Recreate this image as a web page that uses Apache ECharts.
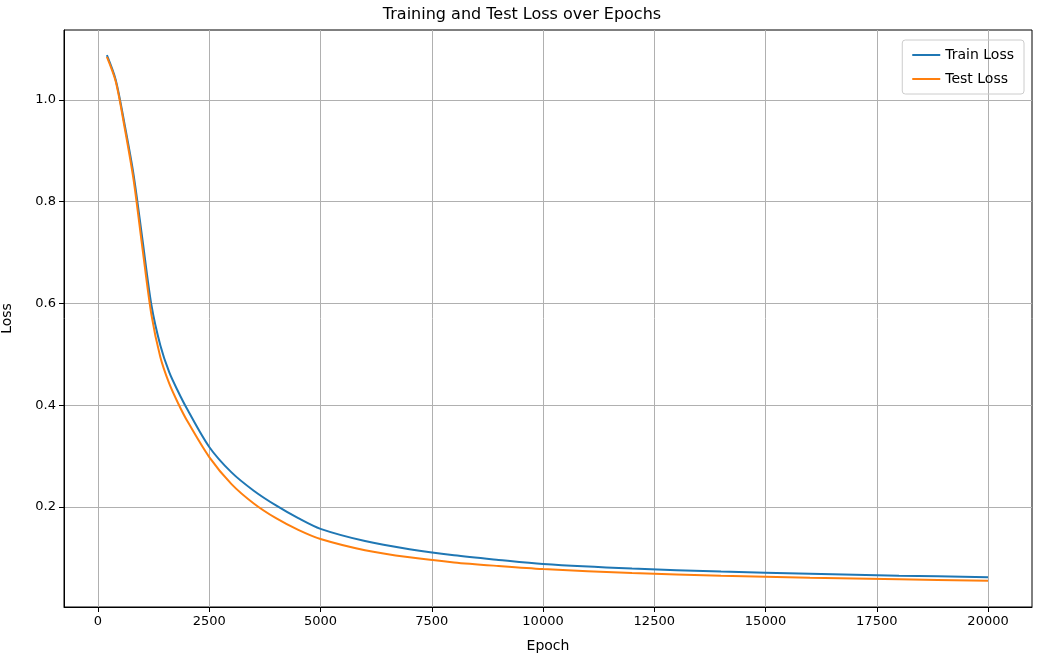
<html>
<head>
  <meta charset="utf-8">
  <title>Training and Test Loss over Epochs</title>
  <script src="https://cdn.jsdelivr.net/npm/echarts@6/dist/echarts.min.js"></script>
</head>
<body style="margin:0">
  <div id="main" style="width:1044px;height:670px;"></div>
  <script type="text/javascript">
    var epochs = [200, 400, 600, 800, 1000, 1200, 1400, 1600, 1800, 2000, 2500, 3000, 3500, 4000, 4500, 5000,
      6000, 7000, 8000, 9000, 10000, 12000, 14000, 16000, 18000, 20000];
    var trainLoss = [1.088, 1.039, 0.951, 0.853, 0.725, 0.597, 0.518, 0.465, 0.427, 0.393, 0.318, 0.268, 0.232,
      0.203, 0.178, 0.157, 0.133, 0.117, 0.105, 0.096, 0.088, 0.079, 0.073, 0.069, 0.065, 0.062];
    var testLoss = [1.085, 1.036, 0.945, 0.843, 0.708, 0.578, 0.495, 0.443, 0.404, 0.370, 0.298, 0.245, 0.207,
      0.178, 0.155, 0.137, 0.115, 0.101, 0.091, 0.084, 0.078, 0.070, 0.065, 0.061, 0.058, 0.055];
    var xTicks = [0, 2500, 5000, 7500, 10000, 12500, 15000, 17500, 20000];
    var yTicks = [0.2, 0.4, 0.6, 0.8, 1.0];

    function pairs(ys) {
      return epochs.map(function (e, i) { return [e, ys[i]]; });
    }

    var myChart = echarts.init(document.getElementById('main'));
    var font = 'DejaVu Sans';
    myChart.setOption({
      animation: false,
      textStyle: { fontFamily: font },
      title: {
        text: 'Training and Test Loss over Epochs', left: 'center', top: 2,
        textStyle: { fontFamily: font, fontSize: 16, fontWeight: 'normal', color: '#000' }
      },
      legend: {
        right: 20, top: 40, orient: 'vertical', itemWidth: 28, itemHeight: 2, itemGap: 10,
        padding: [8, 10], borderColor: '#ccc', borderWidth: 1, borderRadius: 3,
        icon: 'rect', textStyle: { fontFamily: font, fontSize: 14, color: '#000' }
      },
      grid: { left: 64, right: 12, top: 30, bottom: 63, outerBoundsMode: 'none',
        show: true, borderColor: '#000', borderWidth: 1 },
      xAxis: {
        type: 'value', min: -764, max: 20988,
        name: 'Epoch', nameLocation: 'middle', nameGap: 32,
        nameTextStyle: { fontSize: 14, color: '#000' },
        axisLine: { onZero: false, lineStyle: { color: '#000' } },
        axisTick: { customValues: xTicks, lineStyle: { color: '#000' } },
        axisLabel: { customValues: xTicks, fontSize: 13, color: '#000', formatter: function (v) { return String(v); } },
        splitLine: { show: true, lineStyle: { color: '#b0b0b0' } }
      },
      yAxis: {
        type: 'value', min: 0.0034, max: 1.1376,
        name: 'Loss', nameLocation: 'middle', nameGap: 50,
        nameTextStyle: { fontSize: 14, color: '#000' },
        axisLine: { show: true, onZero: false, lineStyle: { color: '#000' } },
        axisTick: { show: true, customValues: yTicks, lineStyle: { color: '#000' } },
        axisLabel: { customValues: yTicks, fontSize: 13, color: '#000', formatter: function (v) { return v.toFixed(1); } },
        splitLine: { show: true, lineStyle: { color: '#b0b0b0' } }
      },
      series: [
        { name: 'Train Loss', type: 'line', data: pairs(trainLoss), showSymbol: false, smooth: 0.3,
          color: '#1f77b4', lineStyle: { width: 2 } },
        { name: 'Test Loss', type: 'line', data: pairs(testLoss), showSymbol: false, smooth: 0.3,
          color: '#ff7f0e', lineStyle: { width: 2 } }
      ]
    });
  </script>
</body>
</html>
